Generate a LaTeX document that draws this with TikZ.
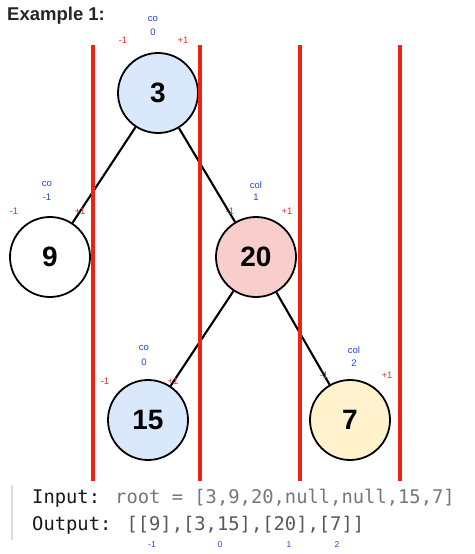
\documentclass[tikz,border=0pt]{standalone}
\usepackage{fontspec}
\setmainfont{Liberation Sans}
\newfontfamily\monof{DejaVu Sans Mono}
\newfontfamily\numf{Liberation Sans}
\begin{document}
\begin{tikzpicture}[x=1pt,y=-1pt,
  tnode/.style={circle,draw=black,line width=1.8pt,minimum size=80pt,inner sep=0pt,font=\numf\bfseries\fontsize{28}{28}\selectfont},
  tedge/.style={draw=black,line width=2.1pt},
  sep/.style={draw=redline,line width=3.5pt},
  colt/.style={text=blueT,font=\fontsize{9.5}{9.5}\selectfont,inner sep=0pt},
  pm/.style={text=redT,font=\fontsize{9.5}{9.5}\selectfont,inner sep=0pt},
  idx/.style={text=blueT,font=\fontsize{8.5}{8.5}\selectfont,inner sep=0pt}]
\definecolor{redline}{HTML}{EE2211}
\definecolor{blueT}{HTML}{2244DD}
\definecolor{redT}{HTML}{DD3333}
\definecolor{fblue}{HTML}{DAE8FC}
\definecolor{fred}{HTML}{F8CECC}
\definecolor{fyel}{HTML}{FFF2CC}
\definecolor{greyT}{HTML}{777777}
\definecolor{barG}{HTML}{DDDDDD}
\useasboundingbox[fill=white] (0,0) rectangle (474,554);
\node[anchor=west,inner sep=0pt,font=\bfseries\fontsize{18.5}{18.5}\selectfont,text=black!85] (title) at (7,16) {Example 1:};
% nodes
\node[tnode,fill=fblue] (n3) at (158,93) {3};
\node[tnode,fill=white] (n9) at (50,257) {9};
\node[tnode,fill=fred] (n20) at (256,257) {20};
\node[tnode,fill=fblue] (n15) at (148,420) {15};
\node[tnode,fill=fyel] (n7) at (350,420) {7};
% edges
\draw[tedge] (n3) -- (n9);
\draw[tedge] (n3) -- (n20);
\draw[tedge] (n20) -- (n15);
\draw[tedge] (n20) -- (n7);
% labels
\node[colt] (c3a) at (153,19) {co};
\node[colt] (c3b) at (153,32) {0};
\node[pm] (m3) at (123,40) {-1};
\node[pm] (p3) at (183,40) {+1};
\node[colt] (c9a) at (47,184) {co};
\node[colt] (c9b) at (47,197) {-1};
\node[pm] (m9) at (14,211) {-1};
\node[pm] (p9) at (80,211) {+1};
\node[colt] (c20a) at (256,185) {col};
\node[colt] (c20b) at (256,197) {1};
\node[pm] (m20) at (230,211) {-1};
\node[pm] (p20) at (287,211) {+1};
\node[colt] (c15a) at (144,348) {co};
\node[colt] (c15b) at (144,362) {0};
\node[pm] (m15) at (105,381) {-1};
\node[pm] (p15) at (173,381) {+1};
\node[colt] (c7a) at (354,350) {col};
\node[colt] (c7b) at (354,363) {2};
\node[pm] (m7) at (324,375) {-1};
\node[pm] (p7) at (387,375) {+1};
% separators
\coordinate (s1t) at (93,45); \coordinate (s1b) at (93,481);
\coordinate (s2t) at (200,45); \coordinate (s2b) at (200,481);
\coordinate (s3t) at (300,45); \coordinate (s3b) at (300,481);
\coordinate (s4t) at (400,45); \coordinate (s4b) at (400,481);
\draw[sep] (s1t) -- (s1b);
\draw[sep] (s2t) -- (s2b);
\draw[sep] (s3t) -- (s3b);
\draw[sep] (s4t) -- (s4b);
% code block
\coordinate (bt) at (12,485); \coordinate (bb) at (12,540);
\draw[draw=barG,line width=2pt] (bt) -- (bb);
\node[anchor=west,inner sep=0pt,font=\monof\fontsize{18.8}{18.8}\selectfont] (inp) at (32,498) {\textcolor{black!90}{Input:} \textcolor{greyT}{root = [3,9,20,null,null,15,7]}};
\node[anchor=west,inner sep=0pt,font=\monof\fontsize{18.8}{18.8}\selectfont] (outp) at (32,525) {\textcolor{black!90}{Output:} \textcolor{black!65}{[[9],[3,15],[20],[7]]}};
\node[idx] (i1) at (152,545) {-1};
\node[idx] (i2) at (220,545) {0};
\node[idx] (i3) at (289,545) {1};
\node[idx] (i4) at (337,545) {2};
\end{tikzpicture}
\end{document}
